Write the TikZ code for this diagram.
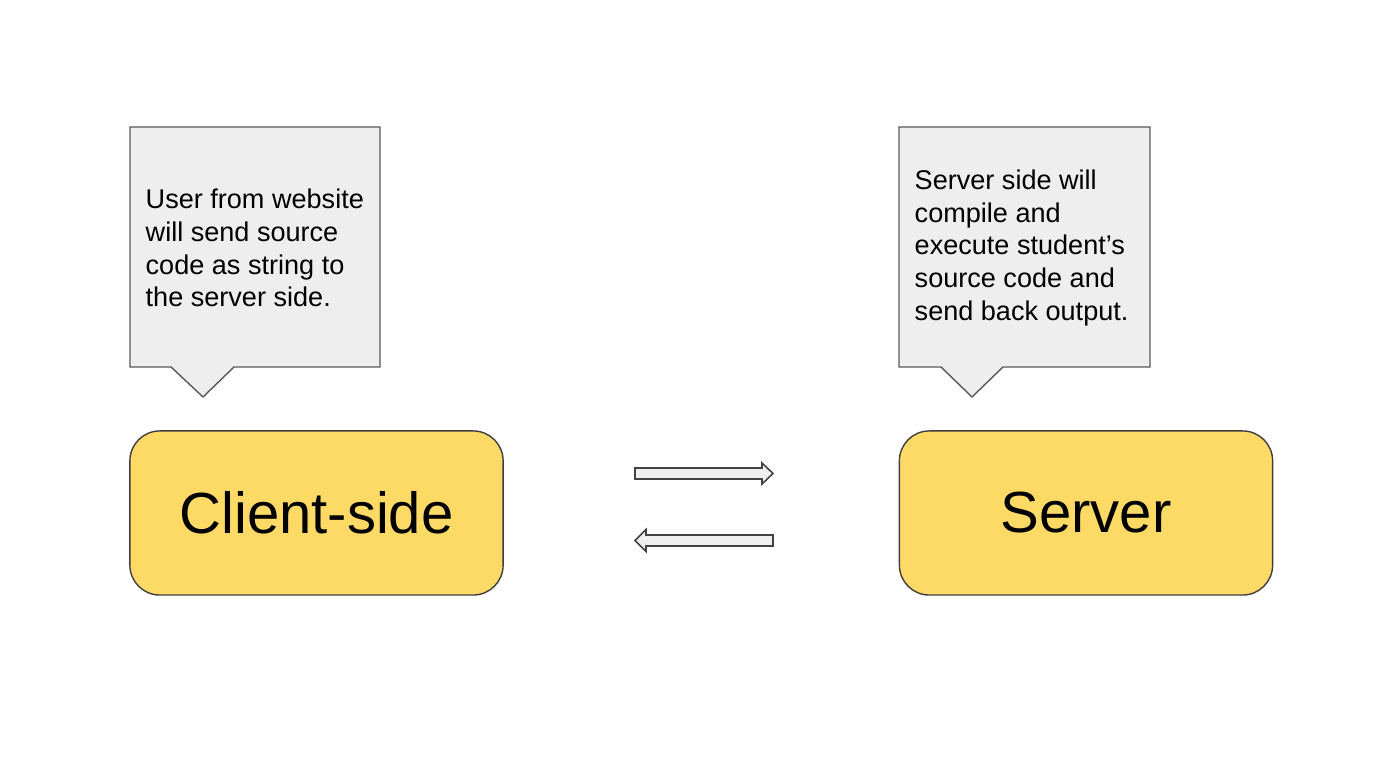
\documentclass[tikz,border=0pt]{standalone}
\usepackage{fontspec}
\setmainfont{Liberation Sans}
\definecolor{callfill}{HTML}{EEEEEE}
\definecolor{callline}{HTML}{595959}
\definecolor{yellowfill}{HTML}{FDD966}
\definecolor{yellowline}{HTML}{3F3F3F}
\definecolor{arrowfill}{HTML}{EFEFEF}
\definecolor{arrowline}{HTML}{434343}
\tikzset{
  callout/.style={fill=callfill, draw=callline, line width=0.4pt, line join=miter},
  calltext/.style={font=\fontsize{7.7pt}{9.3pt}\selectfont, align=left, anchor=west, inner sep=0pt, text=black},
  ybox/.style={fill=yellowfill, draw=yellowline, line width=0.4pt, rounded corners=8.5pt,
    minimum width=3.73cm, minimum height=1.64cm, inner sep=0pt,
    font=\fontsize{16.5pt}{19pt}\selectfont, text=black},
  blockarrow/.style={fill=arrowfill, draw=arrowline, line width=0.45pt, line join=miter},
}
\begin{document}
\begin{tikzpicture}[x=0.01cm, y=-0.01cm]
\useasboundingbox (0,0) rectangle (1400,783);
\fill[white] (0,0) rectangle (1400,783);

% left callout
\draw[callout] (130,127) -- (380,127) -- (380,367) -- (234,367) -- (203,397) -- (171,367) -- (130,367) -- cycle;
\node[calltext] (t1) at (145,248) {User from website\\will send source\\code as string to\\the server side.};

% right callout
\draw[callout] (899,127) -- (1150,127) -- (1150,367) -- (1003,367) -- (972,397) -- (941,367) -- (899,367) -- cycle;
\node[calltext] (t2) at (914,248) {Server side will\\compile and\\execute student’s\\source code and\\send back output.};

% main boxes
\node[ybox] (client) at (316.5,513) {Client-side};
\node[ybox] (server) at (1086,513) {Server};

% block arrows
\draw[blockarrow] (635,468) -- (762,468) -- (762,463) -- (773,473.5) -- (762,484) -- (762,479) -- (635,479) -- cycle;
\draw[blockarrow] (773,535) -- (646,535) -- (646,529.5) -- (635,540.5) -- (646,551.5) -- (646,546) -- (773,546) -- cycle;
\end{tikzpicture}
\end{document}
